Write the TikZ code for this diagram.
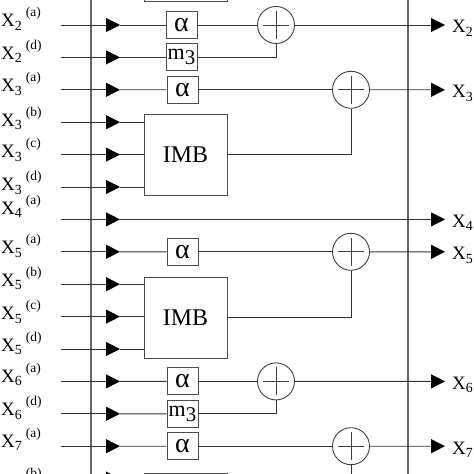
\documentclass[tikz,border=0pt]{standalone}
\usepackage{fontspec}
\setmainfont{Liberation Serif}
\usetikzlibrary{arrows.meta, positioning, calc}

\tikzset{
  wire/.style={draw=black!80, line width=0.9bp},
  feed/.style={wire, -{Triangle[length=14bp, width=14bp, color=black]}},
  frame/.style={draw=black!60, line width=1.2bp},
  gain/.style={draw=black!70, line width=0.9bp, minimum width=31bp, minimum height=27bp, inner sep=0pt, font=\fontsize{28}{28}\selectfont},
  imb/.style={draw=black!70, line width=0.9bp, minimum width=83bp, minimum height=81bp, inner sep=0pt, font=\fontsize{24}{24}\selectfont},
  adder/.style={draw=black!75, line width=0.9bp, circle, minimum size=37bp, inner sep=0pt,
    path picture={\draw[black!75, line width=0.9bp] (path picture bounding box.center) +(-13bp,0) -- +(13bp,0) +(0,-14bp) -- +(0,14bp);}},
  lab/.style={anchor=base west, inner sep=0pt, font=\fontsize{19}{19}\selectfont}
}
\newcommand{\xin}[2]{X\raisebox{-3.5bp}{\fontsize{14}{14}\selectfont #1}\hspace{4bp}\raisebox{10bp}{\fontsize{13.5}{13.5}\selectfont(#2)}}
\newcommand{\xout}[1]{X\raisebox{-3.5bp}{\fontsize{14}{14}\selectfont #1}}
\newcommand{\mthree}{m\raisebox{-5bp}{\fontsize{21}{21}\selectfont 3}}

\begin{document}
\begin{tikzpicture}[x=1bp, y=-1bp]
\useasboundingbox (0,0) rectangle (474,474);
\clip (0,0) rectangle (474,474);

% Frame
\draw[frame] (91,-5) -- (91,480);
\draw[frame] (408,-5) -- (408,480);

% Inputs
\foreach \sub/\sup/\dy [count=\i] in {2/a/2, 2/d/2, 3/a/2, 3/b/4, 3/c/3, 3/d/4, 4/a/-5, 5/a/2, 5/b/2, 5/c/3, 5/d/2, 6/a/1, 6/d/2, 7/a/1, 7/b/9} {
  \pgfmathsetmacro{\y}{25+32.4*(\i-1)}
  \node[lab] (lab\i) at (1,\y+\dy) {\xin{\sub}{\sup}};
  \coordinate (in\i) at (61,\y);
  \coordinate (tip\i) at (120,\y);
  \draw[feed] (in\i) -- (tip\i);
}

% Blocks
\node[imb] (imb0) at (185.5,-39.5) {IMB};
\node[gain] (g1) at (181.5,25) {α};
\node[gain, font=\fontsize{22}{22}\selectfont] (m2) at (181.5,57.4) {\mthree};
\node[gain] (g3) at (182.5,89.8) {α};
\node[imb] (imb3) at (185.5,154.5) {IMB};
\node[gain] (g8) at (182.5,251.8) {α};
\node[imb] (imb5) at (185.5,317.5) {IMB};
\node[gain] (g12) at (182.5,381.4) {α};
\node[gain, font=\fontsize{22}{22}\selectfont] (m13) at (182.5,413.8) {\mthree};
\node[gain] (g14) at (182.5,446.2) {α};
\node[imb] (imb7) at (185.5,513.5) {IMB};

% Adders
\node[adder] (s1) at (276,25) {};
\node[adder] (s3) at (351,89.8) {};
\node[adder] (s8) at (351,251.8) {};
\node[adder] (s12) at (276,381.4) {};
\node[adder] (s14) at (351,446.2) {};

% Outputs
\foreach \i/\n in {1/2, 3/3, 7/4, 8/5, 12/6, 14/7} {
  \coordinate (out\i) at (445,25+32.4*\i-32.4);
  \node[lab] (olab\i) at (452,25+32.4*\i-32.4+8) {\xout{\n}};
}

% Wires into blocks
\draw[wire] (tip1) -- (g1.west);
\draw[wire] (tip2) -- (m2.west);
\draw[wire] (tip3) -- (g3.west);
\foreach \i in {4,5,6} \draw[wire] (tip\i) -- (tip\i -| imb3.west);
\draw[wire] (tip8) -- (g8.west);
\foreach \i in {9,10,11} \draw[wire] (tip\i) -- (tip\i -| imb5.west);
\draw[wire] (tip12) -- (g12.west);
\draw[wire] (tip13) -- (m13.west);
\draw[wire] (tip14) -- (g14.west);
\draw[wire] (tip15) -- (tip15 -| imb7.west);

% Wires into adders
\draw[wire] (g1.east) -- (s1.west);
\draw[wire] (m2.east) -| (s1.south);
\draw[wire] (g3.east) -- (s3.west);
\draw[wire] (imb3.east) -| (s3.south);
\draw[wire] (g8.east) -- (s8.west);
\draw[wire] (imb5.east) -| (s8.south);
\draw[wire] (g12.east) -- (s12.west);
\draw[wire] (m13.east) -| (s12.south);
\draw[wire] (g14.east) -- (s14.west);
\draw[wire] (imb7.east) -| (s14.south);

% Outputs
\draw[feed] (s1.east) -- (out1);
\draw[feed] (s3.east) -- (out3);
\draw[feed] (tip7) -- (out7);
\draw[feed] (s8.east) -- (out8);
\draw[feed] (s12.east) -- (out12);
\draw[feed] (s14.east) -- (out14);
\end{tikzpicture}
\end{document}
